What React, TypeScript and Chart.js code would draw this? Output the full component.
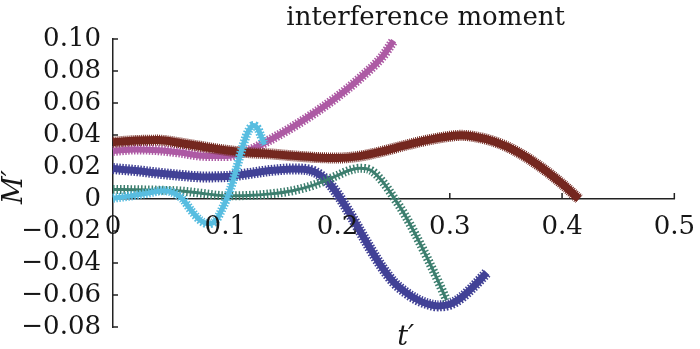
import React, { useEffect, useRef } from 'react';
import { Chart, registerables } from 'chart.js';

Chart.register(...registerables);

// ---- axis ticks & labels ----
const xTicks = [0, 0.1, 0.2, 0.3, 0.4, 0.5];
const xTickLabels = ['0', '0.1', '0.2', '0.3', '0.4', '0.5'];
const yTicks = [0.1, 0.08, 0.06, 0.04, 0.02, 0, -0.02, -0.04, -0.06, -0.08];
const yTickLabels = ['0.10', '0.08', '0.06', '0.04', '0.02', '0', '−0.02', '−0.04', '−0.06', '−0.08'];

const chartTitle = 'interference moment';
const xTitle = 't′';
const yTitle = 'M′';

// ---- series (t', M') ----
const brownT = [0, 0.02, 0.04, 0.06, 0.08, 0.10, 0.12, 0.14, 0.16, 0.18, 0.20, 0.22, 0.24, 0.26, 0.28, 0.30, 0.31, 0.32, 0.34, 0.36, 0.38, 0.40, 0.415];
const brownM = [0.0355, 0.0365, 0.0368, 0.035, 0.0327, 0.0305, 0.029, 0.0282, 0.027, 0.026, 0.0256, 0.0268, 0.0298, 0.0335, 0.0368, 0.0392, 0.0398, 0.0392, 0.0358, 0.0295, 0.0205, 0.0095, 0.0];

const magentaT = [0, 0.02, 0.04, 0.06, 0.08, 0.10, 0.12, 0.14, 0.16, 0.18, 0.20, 0.22, 0.24, 0.25];
const magentaM = [0.030, 0.031, 0.0305, 0.029, 0.027, 0.0268, 0.030, 0.037, 0.045, 0.054, 0.064, 0.0755, 0.089, 0.099];

const navyT = [0, 0.02, 0.04, 0.06, 0.08, 0.10, 0.12, 0.14, 0.16, 0.17, 0.18, 0.19, 0.20, 0.21, 0.22, 0.23, 0.24, 0.25, 0.26, 0.27, 0.28, 0.29, 0.30, 0.31, 0.32, 0.333];
const navyM = [0.019, 0.0178, 0.0162, 0.0148, 0.0138, 0.014, 0.0158, 0.0178, 0.0188, 0.0186, 0.0168, 0.0118, 0.003, -0.008, -0.020, -0.032, -0.043, -0.052, -0.058, -0.0625, -0.0655, -0.0668, -0.0658, -0.0618, -0.0555, -0.046];

const tealT = [0, 0.02, 0.04, 0.06, 0.08, 0.10, 0.12, 0.14, 0.16, 0.18, 0.20, 0.21, 0.22, 0.23, 0.24, 0.25, 0.26, 0.27, 0.28, 0.29, 0.297];
const tealM = [0.006, 0.0058, 0.0055, 0.005, 0.0035, 0.002, 0.0022, 0.0032, 0.0052, 0.009, 0.0148, 0.0178, 0.0192, 0.0178, 0.011, 0.001, -0.010, -0.023, -0.037, -0.052, -0.063];

const cyanT = [0, 0.015, 0.03, 0.045, 0.055, 0.062, 0.07, 0.078, 0.085, 0.092, 0.098, 0.104, 0.11, 0.116, 0.121, 0.125, 0.129, 0.132, 0.135];
const cyanM = [0.0005, 0.0018, 0.0035, 0.0052, 0.0035, 0.0, -0.0075, -0.0135, -0.0155, -0.013, -0.005, 0.005, 0.019, 0.034, 0.043, 0.046, 0.044, 0.039, 0.034];

const SERIF = '"DejaVu Serif", serif';
const INK = '#161616';

const series = [
  { t: cyanT, m: cyanM, color: '#58bde0', core: 5, edge: 9, dash: [1.5, 1.5], order: 1 },
  { t: brownT, m: brownM, color: '#74271f', core: 8, edge: 11, dash: [1, 1], order: 3 },
  { t: magentaT, m: magentaM, color: '#ad5aa4', core: 6, edge: 10, dash: [1.5, 1.5], order: 5 },
  { t: tealT, m: tealM, color: '#3c7e6e', core: 3, edge: 9, dash: [1.5, 2], order: 7 },
  { t: navyT, m: navyM, color: '#414196', core: 7, edge: 11, dash: [1.5, 1.5], order: 9 },
];

function labelFor(values: number[], labels: string[], v: number) {
  const i = values.findIndex((x) => Math.abs(x - v) < 1e-9);
  return i >= 0 ? labels[i] : '';
}

const decor = {
  id: 'decor',
  beforeDatasetsDraw(chart: any) {
    const { ctx, chartArea } = chart;
    const x = chart.scales.x;
    const y = chart.scales.y;
    ctx.save();
    ctx.strokeStyle = '#222';
    ctx.lineWidth = 1.5;
    const y0 = y.getPixelForValue(0);
    xTicks.forEach((v) => {
      if (v === 0) return;
      const px = x.getPixelForValue(v);
      ctx.beginPath();
      ctx.moveTo(px, y0);
      ctx.lineTo(px, y0 - 6);
      ctx.stroke();
    });
    yTicks.forEach((v) => {
      const py = y.getPixelForValue(v);
      ctx.beginPath();
      ctx.moveTo(chartArea.left, py);
      ctx.lineTo(chartArea.left + 5, py);
      ctx.stroke();
    });
    ctx.restore();
  },
  afterDraw(chart: any) {
    const { ctx, chartArea } = chart;
    ctx.save();
    ctx.fillStyle = INK;
    ctx.font = `26px ${SERIF}`;
    ctx.textAlign = 'center';
    ctx.textBaseline = 'alphabetic';
    ctx.fillText(chartTitle, (chartArea.left + chartArea.right) / 2 + 32, 25);

    ctx.font = `italic 27px ${SERIF}`;
    ctx.textBaseline = 'middle';
    ctx.fillText(xTitle, (chartArea.left + chartArea.right) / 2 + 12, 338);

    ctx.translate(15, (chartArea.top + chartArea.bottom) / 2 + 4);
    ctx.rotate(-Math.PI / 2);
    ctx.fillText(yTitle, 0, 0);
    ctx.restore();
  },
};

export default function App() {
  const ref = useRef<HTMLCanvasElement | null>(null);

  useEffect(() => {
    if (!ref.current) return;
    const datasets: any[] = [];
    series.forEach((s) => {
      const pts = s.t.map((t, i) => ({ x: t, y: s.m[i] }));
      datasets.push({
        data: pts,
        borderColor: s.color,
        borderWidth: s.core,
        pointRadius: 0,
        cubicInterpolationMode: 'monotone',
        fill: false,
        clip: false,
        order: s.order,
      });
      datasets.push({
        data: pts,
        borderColor: s.color,
        borderWidth: s.edge,
        borderDash: s.dash,
        pointRadius: 0,
        cubicInterpolationMode: 'monotone',
        fill: false,
        clip: false,
        order: s.order + 1,
      });
    });

    const chart = new Chart(ref.current, {
      type: 'line',
      data: { datasets },
      plugins: [decor],
      options: {
        animation: false,
        responsive: false,
        devicePixelRatio: 1,
        layout: { padding: { left: 0, top: 39, right: 24, bottom: 22 } },
        plugins: { legend: { display: false }, tooltip: { enabled: false }, title: { display: false } },
        scales: {
          x: {
            type: 'linear',
            min: 0,
            max: 0.5,
            position: { y: 0 },
            afterBuildTicks: (s: any) => {
              s.ticks = xTicks.map((v) => ({ value: v }));
            },
            grid: { display: false },
            border: { display: true, color: '#222', width: 1.5 },
            ticks: {
              z: 1,
              padding: 5,
              maxRotation: 0,
              autoSkip: false,
              color: INK,
              font: { family: SERIF, size: 26 },
              callback: (v: any) => labelFor(xTicks, xTickLabels, Number(v)),
            },
          },
          y: {
            type: 'linear',
            min: -0.08,
            max: 0.1,
            position: 'left',
            afterBuildTicks: (s: any) => {
              s.ticks = yTicks.map((v) => ({ value: v }));
            },
            afterFit: (s: any) => {
              s.width = 113;
            },
            grid: { display: false },
            border: { display: true, color: '#222', width: 1.5 },
            ticks: {
              z: 1,
              padding: 4,
              autoSkip: false,
              color: INK,
              font: { family: SERIF, size: 26 },
              callback: (v: any) => labelFor(yTicks, yTickLabels, Number(v)),
            },
          },
        },
      },
    });
    return () => chart.destroy();
  }, []);

  return (
    <div style={{ position: 'absolute', left: 0, top: 0, width: 700, height: 349, background: '#fff' }}>
      <canvas ref={ref} width={700} height={349} />
    </div>
  );
}
